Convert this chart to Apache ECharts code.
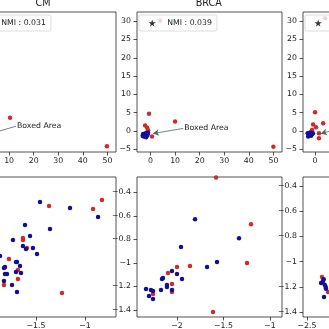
<!DOCTYPE html>
<html><head><meta charset="utf-8">
<script src="https://cdn.jsdelivr.net/npm/echarts@6/dist/echarts.min.js"></script>
<style>html,body{margin:0;padding:0;background:#fff}#c{width:329px;height:329px}</style>
</head><body><div id="c"></div>
<script>
// ---- data ----
const titles = ['CM', 'BRCA'];
const nmiLabels = ['NMI : 0.031', 'NMI : 0.039', 'NMI : 0.035'];
const topTicksX = [0, 10, 20, 30, 40, 50];
const topTicksY = [-5, 0, 5, 10, 15, 20, 25, 30];
const botTicksY = [-1.4, -1.2, -1.0, -0.8, -0.6, -0.4];
const botTicksX = [-2.5, -2.0, -1.5, -1.0];

// top row (full view)
const cmFullRed = [[10.4, 3.6], [49.8, -4.2], [-0.6, 4.5], [-2.0, 1.4], [-1.2, 0.8], [0.6, -1.5], [3.8, 30.0]];
const cmFullBlue = [[-3.0, -0.8], [-2.4, -1.2], [-2.0, -0.6], [-1.6, -1.4], [-2.8, -1.5], [-1.2, -1.0]];
const brcaFullRed = [[-0.6, 4.7], [10.0, 2.6], [-2.2, 1.5], [-1.4, 0.9], [-1.0, 0.2], [0.6, -1.5], [-1.2, -0.3], [50.0, -4.3], [3.9, 30.1]];
const brcaFullBlue = [[-3.0, -0.8], [-2.5, -1.2], [-2.0, -0.6], [-1.6, -1.4], [-2.8, -1.5], [-1.2, -1.0], [-2.2, -0.9], [-1.8, -1.7], [-3.2, -1.3], [-1.0, -0.5]];
const thirdFullRed = [[0.0, 5.1], [-0.8, 1.8], [3.3, 2.1], [0.4, 1.0], [1.6, -0.6], [1.6, -2.0], [-1.2, 0.3], [4.1, 30.8]];
const thirdFullBlue = [[-3.0, -0.6], [-2.5, -1.0], [-2.0, -0.4], [-1.6, -1.3], [-2.8, -1.5], [-1.2, -0.9], [-2.2, -1.1], [-0.9, -0.6]];

// bottom row (boxed area)
const cmBoxRed = [[-1.367, -0.517], [-0.918, -0.542], [-0.827, -0.466], [-1.633, -0.789], [-1.633, -0.806], [-1.592, -0.874], [-1.776, -0.967], [-1.684, -1.061], [-1.684, -1.137], [-1.827, -1.188], [-1.235, -1.256]];
const cmBoxBlue = [[-1.459, -0.483], [-1.153, -0.534], [-0.867, -0.610], [-1.612, -0.678], [-1.357, -0.712], [-1.561, -0.772], [-1.735, -0.806], [-1.633, -0.857], [-1.602, -0.882], [-1.531, -0.874], [-1.490, -0.925], [-1.867, -0.942], [-1.816, -1.035], [-1.827, -1.044], [-1.704, -0.993], [-1.694, -0.993], [-1.663, -1.027], [-1.704, -1.078], [-1.653, -1.086], [-1.816, -1.095], [-1.796, -1.095], [-1.827, -1.154], [-1.745, -1.188], [-1.694, -1.248]];
const brcaBoxRed = [[-1.860, -1.027], [-2.0, -1.036], [-2.097, -1.087], [-2.054, -1.180], [-2.054, -1.247], [-2.258, -1.264], [-1.613, -1.417], [-1.58, -0.275], [-1.204, -0.671], [-1.247, -1.002]];
const brcaBoxBlue = [[-1.806, -0.629], [-1.957, -0.866], [-1.677, -1.036], [-1.570, -0.993], [-2.054, -1.069], [-2.0, -1.095], [-2.151, -1.129], [-2.161, -1.137], [-1.946, -1.137], [-2.108, -1.188], [-2.108, -1.205], [-2.054, -1.231], [-2.172, -1.231], [-2.333, -1.222], [-2.280, -1.231], [-2.258, -1.239], [-2.301, -1.281], [-2.258, -1.307], [-1.333, -0.790]];
const thirdBoxRed = [[-2.339, -1.122], [-2.274, -1.241]];
const thirdBoxBlue = [[-2.349, -1.170], [-2.328, -1.154], [-2.317, -1.281], [-2.300, -1.200], [-2.310, -1.185], [-2.320, -1.140], [-2.296, -1.215]];

// annotation: [text anchor, arrow target] in data coords for each top panel
const annotText = 'Boxed Area';
const annotFrom = [[12.8, 1.3], [13.3, 0.7], [8.0, 0.3]];
const annotTo = [[1.0, -1.0], [1.0, -0.7], [2.4, -0.7]];

// ---- layout ----
const FONT = 'DejaVu Sans';
const colL = [-29, 137, 303];
const W = 145, H = 140;
const rowT = [12, 177];
const topXRange = [[-5.5, 53.5], [-5.5, 53.5], [-4.9, 54.1]];
const topYRange = [-5.74, 32.5];
const botXRange = [[-2.163, -0.684], [-2.43, -0.871], [-2.543, -0.984]];
const botYRange = [[-1.46, -0.27], [-1.46, -0.27], [-1.44, -0.329]];

const RED = '#d02a2a', BLUE = '#0f0f9c', AX = '#262626';
const STAR = 'path://M50,0 L61,35 L98,35 L68,57 L79,91 L50,70 L21,91 L32,57 L2,35 L39,35 Z';
const fmt = v => { const s = Number.isInteger(v) ? String(Math.abs(v)) : Math.abs(v).toFixed(1); return (v < 0 ? '\u2212' : '') + s; };

const grids = [], xAxes = [], yAxes = [], series = [];
const topRed = [cmFullRed, brcaFullRed, thirdFullRed];
const topBlue = [cmFullBlue, brcaFullBlue, thirdFullBlue];
const botRed = [cmBoxRed, brcaBoxRed, thirdBoxRed];
const botBlue = [cmBoxBlue, brcaBoxBlue, thirdBoxBlue];

function axisBase(ticks) {
  return {
    axisLine: { show: false, onZero: false },
    axisTick: { show: true, inside: false, length: 3.5, lineStyle: { color: AX, width: 0.8 }, customValues: ticks },
    axisLabel: { show: true, fontFamily: FONT, fontSize: 7.8, color: '#222', formatter: fmt, customValues: ticks },
    splitLine: { show: false }
  };
}

for (let r = 0; r < 2; r++) {
  for (let c = 0; c < 3; c++) {
    const i = grids.length;
    grids.push({ left: colL[c], top: rowT[r], width: W, height: H, show: true, borderColor: AX, borderWidth: 0.8, backgroundColor: 'transparent', containLabel: false, outerBoundsMode: 'none' });
    const xr = r === 0 ? topXRange[c] : botXRange[c];
    const yr = r === 0 ? topYRange : botYRange[c];
    const xa = Object.assign({ type: 'value', gridIndex: i, position: 'bottom', min: xr[0], max: xr[1] }, axisBase(r === 0 ? topTicksX : botTicksX));
    xa.axisLabel = Object.assign({}, xa.axisLabel, { margin: 5, hideOverlap: false });
    const ya = Object.assign({ type: 'value', gridIndex: i, position: 'left', min: yr[0], max: yr[1] }, axisBase(r === 0 ? topTicksY : botTicksY));
    ya.axisLabel = Object.assign({}, ya.axisLabel, { margin: 6, hideOverlap: false });
    xAxes.push(xa); yAxes.push(ya);
    const red = r === 0 ? topRed[c] : botRed[c];
    const blue = r === 0 ? topBlue[c] : botBlue[c];
    const redSeries = { type: 'scatter', xAxisIndex: i, yAxisIndex: i, data: red, symbolSize: 4.5, itemStyle: { color: RED, opacity: 1 }, silent: true, z: 2 };
    if (r === 0) {
      redSeries.markLine = {
        silent: true, symbol: ['none', 'arrow'], symbolSize: [5, 6], animation: false,
        lineStyle: { color: '#4f6464', width: 0.8, type: 'solid' }, label: { show: false },
        data: [[{ coord: annotFrom[c] }, { coord: annotTo[c] }]]
      };
      redSeries.markPoint = {
        silent: true, symbol: 'circle', symbolSize: 0.01, animation: false,
        label: { show: true, position: 'right', distance: 1, formatter: annotText, fontFamily: FONT, fontSize: 7.8, color: '#222' },
        data: [{ coord: annotFrom[c] }]
      };
    }
    series.push(redSeries);
    series.push({ type: 'scatter', xAxisIndex: i, yAxisIndex: i, data: blue, symbolSize: 4.5, itemStyle: { color: BLUE, opacity: 1 }, silent: true, z: 3 });
    if (r === 0) {
      series.push({ type: 'scatter', name: nmiLabels[c], xAxisIndex: i, yAxisIndex: i, data: [], symbol: STAR, itemStyle: { color: '#000' } });
    }
  }
}

const legendLeft = [-27, 139, 305];
const legends = nmiLabels.map((n, c) => ({
  data: [{ name: n, icon: STAR }], left: legendLeft[c], top: 15, orient: 'horizontal',
  itemWidth: 20, itemHeight: 7, itemGap: 0, padding: [4, 5, 4, 9.5], selectedMode: false,
  borderColor: '#d4d4d4', borderWidth: 0.8, borderRadius: 2, backgroundColor: 'rgba(255,255,255,0.8)',
  textStyle: { fontFamily: FONT, fontSize: 7.8, color: '#222', padding: [1, 0, 0, 0] }
}));

const titleCenters = [43, 209];
const titleWidths = [15, 26.5];
const titleOpts = titles.map((t, c) => ({
  text: t, left: titleCenters[c] - titleWidths[c] / 2, top: -2, padding: 0,
  textStyle: { fontFamily: FONT, fontSize: 9.6, fontWeight: 'normal', color: '#222' }
}));

const chart = echarts.init(document.getElementById('c'), null, { renderer: 'canvas' });
chart.setOption({
  animation: false,
  backgroundColor: '#fff',
  title: titleOpts,
  legend: legends,
  grid: grids, xAxis: xAxes, yAxis: yAxes, series: series
});
</script></body></html>
